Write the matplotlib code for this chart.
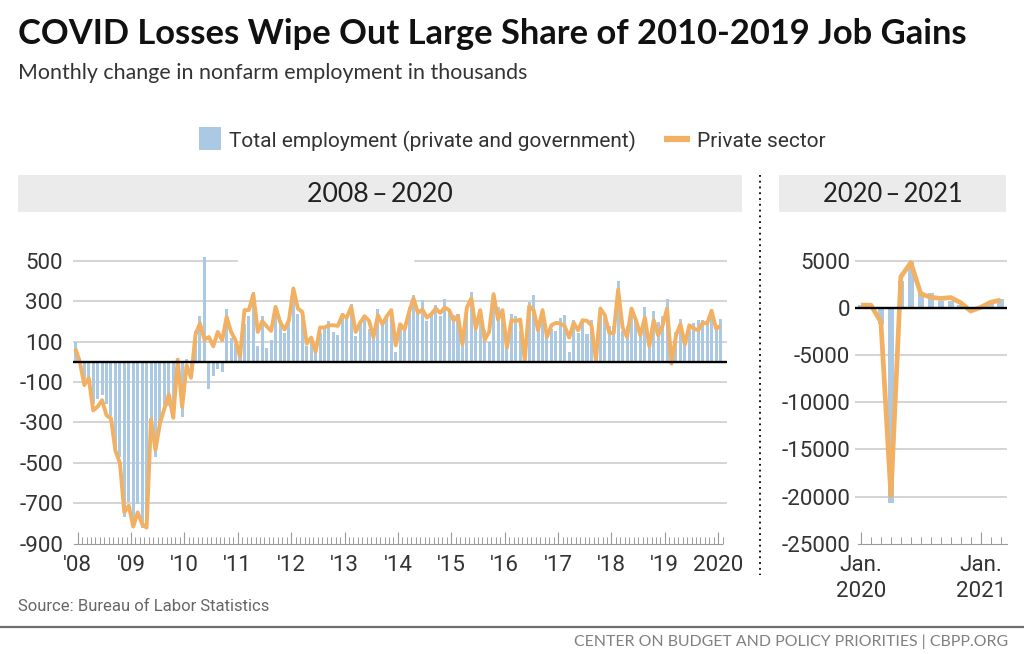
import numpy as np
import matplotlib
matplotlib.use("Agg")
import matplotlib.pyplot as plt
from matplotlib import font_manager as fm
from matplotlib.patches import Rectangle
from matplotlib.lines import Line2D

# ---------------- data ----------------
# Left panel: monthly, Dec 2007 .. Jan 2020 (thousands)
year_labels = ["'08", "'09", "'10", "'11", "'12", "'13", "'14", "'15",
               "'16", "'17", "'18", "'19", "2020"]

total_2008_2020 = [
    100,
    17, -84, -78, -210, -185, -165, -209, -266, -452, -473, -770, -695,
    -791, -703, -823, -800, -330, -470, -329, -213, -220, -204, -2, -275,
    14, -59, 153, 229, 521, -133, -70, -34, -52, 262, 119, 87,
    43, 189, 225, 346, 77, 225, 69, 110, 248, 209, 141, 209,
    358, 237, 233, 78, 115, 76, 143, 177, 203, 146, 132, 244,
    211, 286, 130, 197, 226, 162, 122, 261, 190, 212, 258, 47,
    190, 151, 272, 329, 246, 304, 202, 230, 280, 227, 312, 255,
    234, 238, 86, 262, 344, 206, 254, 157, 100, 321, 272, 239,
    126, 237, 225, 153, 43, 297, 330, 176, 249, 124, 164, 155,
    216, 232, 50, 207, 145, 210, 138, 208, 18, 271, 216, 175,
    176, 400, 155, 175, 268, 208, 147, 270, 118, 250, 196, 227,
    312, 1, 147, 210, 85, 182, 194, 207, 208, 185, 261, 184,
    214,
]

private_2008_2020 = [
    65,
    0, -115, -80, -240, -222, -190, -265, -280, -440, -500, -745, -712,
    -815, -745, -803, -820, -285, -436, -305, -231, -161, -277, 11, -224,
    -17, -79, 136, 190, 110, 123, 77, 148, 107, 222, 148, 107,
    24, 256, 256, 335, 148, 201, 176, 153, 272, 198, 160, 206,
    363, 264, 247, 90, 120, 49, 170, 170, 181, 181, 178, 231,
    219, 272, 148, 193, 226, 203, 123, 231, 186, 226, 256, 82,
    186, 160, 247, 314, 242, 259, 219, 236, 264, 242, 269, 256,
    206, 226, 87, 269, 314, 165, 256, 110, 148, 335, 209, 256,
    70, 206, 203, 209, 7, 275, 256, 156, 256, 123, 181, 193,
    190, 176, 120, 193, 156, 206, 203, 181, 7, 264, 231, 143,
    143, 358, 170, 123, 264, 206, 131, 219, 77, 206, 131, 181,
    264, -9, 131, 186, 87, 181, 165, 156, 193, 190, 252, 165,
    176,
]

# Right panel: monthly, Jan 2020 .. Mar 2021 (thousands)
right_labels = ["Jan.\n2020", "Jan.\n2021"]
total_2020_2021 = [315, 289, -1683, -20679, 2833, 4846, 1726, 1583, 716,
                   680, 264, -306, 233, 536, 916]
private_2020_2021 = [300, 290, -1500, -19900, 3300, 4800, 1480, 1130, 1000,
                     1100, 550, -330, 60, 600, 820]

left_yticks = [-900, -700, -500, -300, -100, 100, 300, 500]
right_yticks = [-25000, -20000, -15000, -10000, -5000, 0, 5000]

# ---------------- style ----------------
BLUE = "#ABC9E3"
ORANGE = "#F2B062"
GRID = "#C9C9C9"
TXT = "#333333"

names = {f.name for f in fm.fontManager.ttflist}
NARROW = "Liberation Sans Narrow" if "Liberation Sans Narrow" in names else "Roboto"
REG = "Lato" if "Lato" in names else "DejaVu Sans"

W, H = 1024, 654
fig = plt.figure(figsize=(W / 100, H / 100), dpi=100)
fig.patch.set_facecolor("white")


def fx(x):
    return x / W


def fy(y):
    return 1 - y / H


renderer = fig.canvas.get_renderer()


def fit(t, target):
    bb = t.get_window_extent(renderer=renderer)
    t.set_fontsize(t.get_fontsize() * target / bb.width)
    return t


def size_for(text, family, target, weight="normal"):
    t = fig.text(0, 0, text, family=family, fontsize=10, weight=weight)
    bb = t.get_window_extent(renderer=renderer)
    t.remove()
    return 10 * target / bb.width


TICK_FS = size_for("2020", NARROW, 50)

top_px, bot_px = 240, 543.7
axL = fig.add_axes([fx(73.3), fy(bot_px), (726.7 - 73.3) / W, (bot_px - top_px) / H])
axR = fig.add_axes([fx(855), fy(bot_px), (1007 - 855) / W, (bot_px - top_px) / H])

# ---- left panel ----
xL = np.arange(len(total_2008_2020))
axL.bar(xL, total_2008_2020, width=0.68, color=BLUE, zorder=2, linewidth=0)
axL.plot(xL, private_2008_2020, color=ORANGE, lw=2.8, zorder=3,
         solid_joinstyle="round", solid_capstyle="butt")
axL.set_xlim(-0.47, 146.4)
axL.set_ylim(-900, 603)
for v in left_yticks[1:-1]:
    axL.axhline(v, color=GRID, lw=1.1, zorder=1)
axL.axhline(500, xmin=0, xmax=0.2505, color=GRID, lw=1.1, zorder=1)
axL.axhline(500, xmin=0.523, xmax=1, color=GRID, lw=1.1, zorder=1)
axL.axhline(0, color="black", lw=1.7, zorder=4)

# ---- right panel ----
xR = np.arange(len(total_2020_2021))
axR.bar(xR, total_2020_2021, width=0.65, color=BLUE, zorder=2, linewidth=0)
axR.plot(xR, private_2020_2021, color=ORANGE, lw=3.4, zorder=3,
         solid_joinstyle="round", solid_capstyle="butt")
axR.set_xlim(-0.6, 14.64)
axR.set_ylim(-25000, 7200)
for v in right_yticks[1:]:
    if v != 0:
        axR.axhline(v, color=GRID, lw=1.1, zorder=1)
axR.axhline(0, color="black", lw=1.7, zorder=4)

for ax in (axL, axR):
    ax.set_facecolor("none")
    for s in ("top", "left", "right"):
        ax.spines[s].set_visible(False)
    ax.spines["bottom"].set_color("#9A9A9A")
    ax.spines["bottom"].set_linewidth(0.8)

axL.spines["bottom"].set_bounds(-0.3, 145.3)
axR.spines["bottom"].set_bounds(-0.3, 14.6)

axL.set_xticks(np.arange(0.5, 146, 12))
axL.set_xticklabels(year_labels)
axL.set_xticks(np.arange(0.5, 146, 1), minor=True)
axR.set_xticks([0, 12])
axR.set_xticklabels(right_labels, linespacing=1.3)
axR.set_xticks(np.arange(0, 15, 1), minor=True)

for ax in (axL, axR):
    ax.tick_params(axis="x", which="major", direction="in", length=9,
                   width=0.8, color="#9A9A9A", pad=8, labelsize=TICK_FS,
                   labelcolor=TXT)
    ax.tick_params(axis="x", which="minor", direction="in", length=5,
                   width=0.7, color="#9A9A9A")
    for lab in ax.get_xticklabels():
        lab.set_family(NARROW)

axL.set_yticks(left_yticks)
axL.set_yticklabels([str(v) for v in left_yticks])
axR.set_yticks(right_yticks)
axR.set_yticklabels([str(v) for v in right_yticks])
axL.tick_params(axis="y", length=0, pad=7.4, labelsize=TICK_FS, labelcolor=TXT)
axR.tick_params(axis="y", length=0, pad=3.6, labelsize=TICK_FS, labelcolor=TXT)
for ax in (axL, axR):
    for lab in ax.get_yticklabels():
        lab.set_family(NARROW)

# ---------------- figure decorations ----------------
t = fig.text(fx(18), fy(44), "COVID Losses Wipe Out Large Share of 2010-2019 Job Gains",
             family=REG, weight="bold", fontsize=20, color="#111111", va="baseline")
fit(t, 950)
t = fig.text(fx(18), fy(79), "Monthly change in nonfarm employment in thousands",
             family=REG, fontsize=12, color=TXT, va="baseline")
fit(t, 506)

# legend
fig.add_artist(Rectangle((fx(199), fy(150)), 22 / W, 23 / H, transform=fig.transFigure,
                         facecolor=BLUE, edgecolor="none"))
t = fig.text(fx(229), fy(147), "Total employment (private and government)",
             family=NARROW, fontsize=14, color=TXT, va="baseline")
fit(t, 411)
fig.add_artist(Line2D([fx(664), fx(690)], [fy(139), fy(139)], transform=fig.transFigure,
                      color=ORANGE, lw=4.5, solid_capstyle="butt"))
t = fig.text(fx(697), fy(147), "Private sector", family=NARROW, fontsize=14,
             color=TXT, va="baseline")
fit(t, 129)

# panel headers
fig.add_artist(Rectangle((fx(18), fy(212)), (742 - 18) / W, 37 / H,
                         transform=fig.transFigure, facecolor="#EBEBEB",
                         edgecolor="none", zorder=0))
fig.add_artist(Rectangle((fx(779), fy(212)), (1006 - 779) / W, 37 / H,
                         transform=fig.transFigure, facecolor="#EBEBEB",
                         edgecolor="none", zorder=0))
t = fig.text(fx(380), fy(202), "2008\u2009\u2013\u20092020", family=[REG, "DejaVu Sans"],
             fontsize=14, color="#222222", ha="center", va="baseline")
fit(t, 147)
t = fig.text(fx(893), fy(202), "2020\u2009\u2013\u20092021", family=[REG, "DejaVu Sans"],
             fontsize=14, color="#222222", ha="center", va="baseline")
fit(t, 140)

# dotted separator
fig.add_artist(Line2D([fx(760), fx(760)], [fy(175), fy(575)], transform=fig.transFigure,
                      color="black", lw=1.3, linestyle=(0, (1, 2.2))))

# source & footer
t = fig.text(fx(18), fy(611), "Source: Bureau of Labor Statistics", family=NARROW,
             fontsize=11, color="#666666", va="baseline")
fit(t, 250)
fig.add_artist(Line2D([0, 1], [fy(627), fy(627)], transform=fig.transFigure,
                      color="#6E6E6E", lw=1.6))
t = fig.text(fx(1008), fy(646), "CENTER ON BUDGET AND POLICY PRIORITIES | CBPP.ORG",
             family=REG, fontsize=10, color="#808080", ha="right", va="baseline")
fit(t, 430)

fig.savefig("out.png", dpi=100, facecolor="white")
